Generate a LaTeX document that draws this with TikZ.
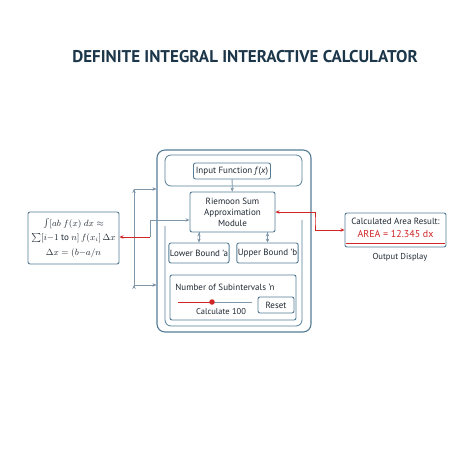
\documentclass[tikz,border=0pt]{standalone}
\usepackage[no-math]{fontspec}
\usepackage{amsmath}
\setmainfont{PT Sans}
\usetikzlibrary{arrows.meta}

\definecolor{boxblue}{RGB}{84,124,150}
\definecolor{linegray}{RGB}{128,152,170}
\definecolor{accentred}{RGB}{208,38,38}
\definecolor{textdark}{RGB}{30,40,50}
\definecolor{titlenavy}{RGB}{28,54,74}

\begin{document}
\begin{tikzpicture}[x=1pt, y=-1pt, >={Stealth[length=4pt,width=3.5pt]},
   base_node_style/.style={draw=boxblue, line width=0.9pt, fill=white, text=textdark, inner sep=1pt, align=center},
   box_style/.style={base_node_style, rounded corners=2pt, font=\fontsize{9}{11}\selectfont},
   panel_style/.style={draw=boxblue, line width=1.1pt, rounded corners=8pt},
   label_style/.style={text=textdark, font=\fontsize{9}{11}\selectfont, inner sep=0pt},
   edge_style/.style={->, draw=linegray, line width=0.8pt},
   red_style/.style={->, draw=accentred, line width=0.9pt}]

    \useasboundingbox (0,0) rectangle (474,474);

    \node[text=titlenavy, font=\fontsize{17}{20}\bfseries] (title) at (245,57) {DEFINITE INTEGRAL INTERACTIVE CALCULATOR};

    % main panel
    \node[panel_style, minimum width=154pt, minimum height=182pt] (panel) at (234,241) {};
    \node[panel_style, rounded corners=6pt, line width=0.8pt, minimum width=137pt, minimum height=31pt] (top_area) at (233.5,170.5) {};
    \draw[boxblue, line width=0.8pt, rounded corners=6pt] (165,226) -- (165,326) -- (302,326) -- (302,220);

    \node[box_style, minimum width=77pt, minimum height=16pt] (input) at (232,171) {Input Function \textit{f}(\textit{x})};
    \node[box_style, minimum width=85pt, minimum height=40pt] (module) at (232.5,212) {Riemoon Sum\\Approximation\\Module};
    \node[box_style, minimum width=58pt, minimum height=20pt] (lower) at (199,253) {Lower Bound 'a};
    \node[box_style, minimum width=61pt, minimum height=20pt] (upper) at (267.5,253) {Upper Bound 'b};

    \node[box_style, minimum width=126pt, minimum height=45pt] (sub) at (233,297.5) {};
    \node[label_style] (sub_label) at (225,287) {Number of Subintervals 'n};
    \coordinate (slide_l) at (178,302);
    \coordinate (slide_r) at (252,302);
    \coordinate (slide_k) at (212,302);
    \draw[linegray, line width=0.8pt] (slide_k) -- (slide_r);
    \draw[accentred, line width=1pt] (slide_l) -- (slide_k);
    \node[circle, fill=accentred, inner sep=0pt, minimum size=5.5pt] (knob) at (slide_k) {};
    \node[label_style, font=\fontsize{8.5}{10}\selectfont] (calc) at (221,311.5) {Calculate 100};
    \node[box_style, minimum width=36pt, minimum height=16pt] (reset) at (276,305) {Reset};

    % formula and output
    \node[base_node_style, rounded corners=2pt, minimum width=91pt, minimum height=52pt, font=\fontsize{9}{14.5}\selectfont] (formula) at (73.5,238)
        {$\int[ab\;f(x)\;dx \approx$\\$\sum[i{-}1\ \text{to}\ n]\,f(x_i]\,\Delta x$\\$\Delta x = (b{-}a/n$};
    \node[base_node_style, rounded corners=2pt, minimum width=101pt, minimum height=34pt] (result) at (395.5,230) {};
    \node[label_style] (result_head) at (395.5,221.5) {Calculated Area Result:};
    \node[label_style, text=accentred, font=\fontsize{10}{12}\selectfont] (result_val) at (395.5,234) {AREA = 12.345 dx};
    \draw[accentred, line width=0.9pt] ([xshift=1pt,yshift=4pt]result.south west) -- ([xshift=-1pt,yshift=4pt]result.south east);
    \node[label_style, font=\fontsize{8.6}{10}\selectfont] (output) at (400,257) {Output Display};

    % connectors
    \coordinate (fork_top) at (134,189);
    \coordinate (fork_bot) at (134,285);
    \coordinate (fork_mid) at (150,237);
    \coordinate (bend_r) at (315,221);
    \draw[linegray, line width=0.8pt] (fork_top) -- (fork_bot);
    \path [edge_style] (fork_top) edge (fork_top -| panel.west);
    \path [edge_style] (fork_bot) edge (fork_bot -| panel.west);
    \draw[edge_style] (fork_mid) |- ([yshift=-8pt]module.west);
    \draw[red_style] (fork_mid) -- (fork_mid -| formula.east);
    \draw[red_style, <->] (module.east) -| (bend_r) |- (result.west);
    \path [edge_style] (input) edge (module);
    \path [edge_style] (module.south -| lower) edge (lower);
    \path [edge_style] (module.south -| upper) edge (upper);
\end{tikzpicture}
\end{document}
